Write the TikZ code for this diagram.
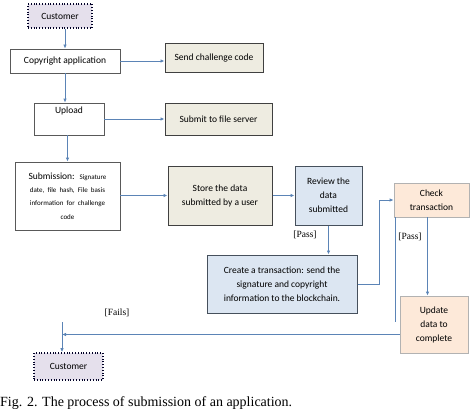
\documentclass[tikz,border=0pt]{standalone}
\usepackage{fontspec}
\setmainfont{Carlito}
\newfontfamily\capfont{Liberation Serif}
\usepackage{xcolor}
\usepackage{tikz}
\usetikzlibrary{arrows.meta, positioning, calc}

\definecolor{flow}{HTML}{5B84B6}
\definecolor{lav}{HTML}{E5E0EC}
\definecolor{beige}{HTML}{EEECE1}
\definecolor{paleblue}{HTML}{DCE6F2}
\definecolor{peach}{HTML}{FDE9D9}
\definecolor{slate}{HTML}{46505C}

\tikzstyle{box} = [draw=black!65, line width=0.8pt, fill=white, align=center, inner sep=2pt]
\tikzstyle{cust} = [box, draw=black!85!blue, dotted, line width=1.6pt, fill=lav]
\tikzstyle{task} = [box, draw=black!75, line width=1pt, fill=beige]
\tikzstyle{chain} = [box, draw=slate, line width=1pt, fill=paleblue]
\tikzstyle{tx} = [box, draw=black!30, line width=0.8pt, fill=peach]
\tikzstyle{flowline} = [draw=flow, line width=0.8pt, -{Latex[length=4pt, width=3.5pt]}]

\begin{document}
\begin{tikzpicture}[x=1pt, y=-1pt, font=\fontsize{9.5}{14}\selectfont]

    \useasboundingbox (0, 0) rectangle (474, 412);

    % Left column
    \node (C1) [cust, minimum width=64, minimum height=24] at (60, 16) {Customer};
    \node (CA) [box, minimum width=110, minimum height=24] at (65, 61) {Copyright application};
    \node (UP) [box, minimum width=70, minimum height=32] at (69, 119) {Upload\hspace{10pt}\\[4pt]};
    \node (SU) [box, minimum width=105, minimum height=68, text width=98] at (67.5, 196)
        {Submission: {\fontsize{7}{13}\selectfont Signature\\ date, file hash, File basis\\ information for challenge\\ code}};

    % Side tasks
    \node (SC) [task, minimum width=98, minimum height=29] at (214, 58.5) {Send challenge code};
    \node (SF) [task, minimum width=107, minimum height=32] at (218.5, 119) {Submit to file server};
    \node (ST) [task, minimum width=104, minimum height=59] at (220, 195.5) {Store the data\\ submitted by a user};

    % Review and blockchain
    \node (RV) [chain, minimum width=67, minimum height=59] at (328.5, 195.5) {Review the\\ data\\ submitted};
    \node (CT) [chain, minimum width=150, minimum height=58] at (282, 284)
        {Create a transaction: send the\\ signature and copyright\\ information to the blockchain.};
    \node (CK) [tx, minimum width=75, minimum height=34] at (431.5, 200) {Check\\ transaction};
    \node (UD) [tx, minimum width=68, minimum height=57] at (434, 324.5) {Update\\ data to\\ complete};
    \node (C2) [cust, minimum width=69, minimum height=27] at (68.5, 366.5) {Customer};

    % Connectors
    \draw [flowline] (CA.north |- C1.south) -- (CA.north);
    \draw [flowline] (CA.east) -- (CA.east -| SC.west);
    \draw [flowline] (CA.south) -- (CA.south |- UP.north);
    \draw [flowline] (UP.east) -- (SF.west);
    \draw [flowline] (SU.north |- UP.south) -- (SU.north);
    \draw [flowline] (SU.east |- ST.west) -- (ST.west);
    \draw [flowline] (ST.east) -- (RV.west);
    \draw [flowline] (RV.south) -- (RV.south |- CT.north);
    \draw [flowline] (CT.east) -- ++(22, 0) |- (CK.west);
    \draw [flowline] ([xshift=-4pt]CK.south) -- ([xshift=-4pt]CK.south |- UD.north);

    % Fail path
    \coordinate (FA) at (395, 322);
    \coordinate (FB) at (62, 322);
    \draw [draw=flow, line width=0.8pt] (CK.south west -| FA) -- (FA);
    \draw [flowline] ([yshift=-10pt]UD.west) -- ([yshift=-10pt]UD.west -| FB);
    \draw [flowline] (FB) -- (FB |- C2.north);

    % Labels
    \node (P1) [font=\capfont\fontsize{9.5}{10}\selectfont] at (305, 235) {[Pass]};
    \node (P2) [font=\capfont\fontsize{9.5}{10}\selectfont] at (410, 237) {[Pass]};
    \node (FL) [font=\capfont\fontsize{9.5}{10}\selectfont] at (117, 313) {[Fails]};

    % Caption
    \node (FG) [anchor=base west, inner sep=0pt, font=\capfont\fontsize{14}{16}\selectfont] at (0, 406)
        {Fig. 2. The process of submission of an application.};

\end{tikzpicture}
\end{document}
